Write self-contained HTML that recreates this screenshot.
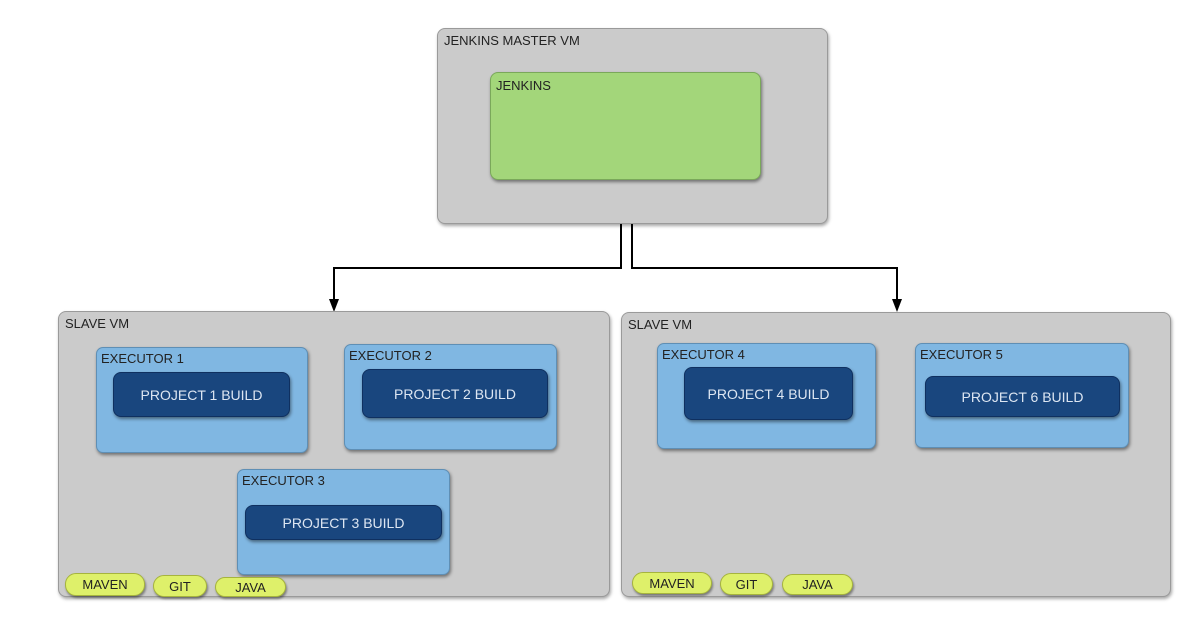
<!DOCTYPE html>
<html><head><meta charset="utf-8"><style>
body{margin:0;width:1200px;height:630px;background:#fff;position:relative;overflow:hidden;font-family:"Liberation Sans",sans-serif;}
.b{position:absolute;box-sizing:border-box;}
.vm{background:#cbcbcb;border:1.5px solid #9a9a9a;border-radius:8px;box-shadow:1px 2px 3px rgba(0,0,0,.35);}
.lbl{position:absolute;left:6px;top:4px;font-size:13px;color:#222;}
.g{background:#a3d67a;border:1px solid #7aa85a;border-radius:8px;box-shadow:1px 2px 3px rgba(0,0,0,.45);}
.ex{background:#80b7e2;border:1px solid #5f8fb5;border-radius:7px;box-shadow:1px 2px 3px rgba(0,0,0,.45);}
.pr{background:#19467e;border:1px solid #0f3060;border-radius:8px;box-shadow:1px 2px 3px rgba(0,0,0,.45);color:#dde6f2;font-size:14px;display:flex;align-items:center;justify-content:center;}
.pill{background:#def06a;border:1.5px solid #a6b43d;border-radius:11px;box-shadow:1px 2px 2px rgba(0,0,0,.4);font-size:13px;color:#222;display:flex;align-items:center;justify-content:center;}
</style></head><body>
<div class="b vm" style="left:437px;top:28px;width:391px;height:196px"><span class="lbl">JENKINS MASTER VM</span></div>
<div class="b g" style="left:490px;top:72px;width:271px;height:108px"><span class="lbl" style="left:5px;top:5px">JENKINS</span></div>
<svg class="b" style="left:0;top:0" width="1200" height="630">
<polyline points="621,224 621,268 334,268 334,300" fill="none" stroke="#000" stroke-width="2"/>
<polyline points="632,224 632,268 897,268 897,300" fill="none" stroke="#000" stroke-width="2"/>
<polygon points="329,299 339,299 334,312" fill="#000"/>
<polygon points="892,299 902,299 897,312" fill="#000"/>
</svg>
<div class="b vm" style="left:58px;top:311px;width:552px;height:286px"><span class="lbl">SLAVE VM</span></div>
<div class="b vm" style="left:621px;top:312px;width:550px;height:285px"><span class="lbl">SLAVE VM</span></div>
<div class="b ex" style="left:96px;top:347px;width:212px;height:106px"><span class="lbl" style="left:4px;top:3px">EXECUTOR 1</span></div>
<div class="b pr" style="left:113px;top:372px;width:177px;height:45px">PROJECT 1 BUILD</div>
<div class="b ex" style="left:344px;top:344px;width:213px;height:106px"><span class="lbl" style="left:4px;top:3px">EXECUTOR 2</span></div>
<div class="b pr" style="left:362px;top:369px;width:186px;height:49px">PROJECT 2 BUILD</div>
<div class="b ex" style="left:237px;top:469px;width:213px;height:106px"><span class="lbl" style="left:4px;top:3px">EXECUTOR 3</span></div>
<div class="b pr" style="left:245px;top:505px;width:197px;height:35px">PROJECT 3 BUILD</div>
<div class="b ex" style="left:657px;top:343px;width:219px;height:106px"><span class="lbl" style="left:4px;top:3px">EXECUTOR 4</span></div>
<div class="b pr" style="left:684px;top:367px;width:169px;height:53px">PROJECT 4 BUILD</div>
<div class="b ex" style="left:915px;top:343px;width:214px;height:105px"><span class="lbl" style="left:4px;top:3px">EXECUTOR 5</span></div>
<div class="b pr" style="left:925px;top:376px;width:195px;height:41px">PROJECT 6 BUILD</div>
<div class="b pill" style="left:65px;top:573px;width:80px;height:23px">MAVEN</div>
<div class="b pill" style="left:153px;top:575px;width:54px;height:22px">GIT</div>
<div class="b pill" style="left:215px;top:577px;width:71px;height:20px">JAVA</div>
<div class="b pill" style="left:632px;top:572px;width:80px;height:22px">MAVEN</div>
<div class="b pill" style="left:720px;top:573px;width:53px;height:22px">GIT</div>
<div class="b pill" style="left:782px;top:574px;width:71px;height:21px">JAVA</div>
</body></html>
